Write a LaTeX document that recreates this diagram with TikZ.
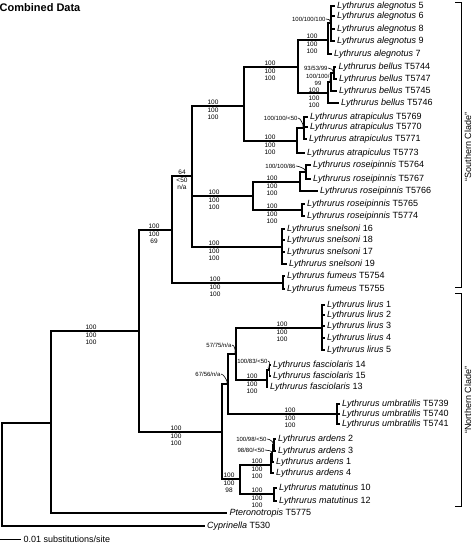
\documentclass[tikz,border=0pt]{standalone}
\usepackage{fontspec}
\setmainfont{Liberation Sans}
\usetikzlibrary{arrows.meta}

\begin{document}
\begin{tikzpicture}[
  x=1pt, y=-1pt,
  br/.style   ={draw,line width=1.1pt},
  tip/.style  ={anchor=west,inner xsep=2.5pt,inner ysep=0.5pt,font=\fontsize{9}{10}\selectfont},
  ttl/.style  ={anchor=west,inner sep=0,font=\fontsize{11}{13}\selectfont\bfseries},
  sv/.style   ={font=\fontsize{6.5}{7.5}\selectfont,inner sep=1.6pt,align=center},
  svl/.style  ={sv,anchor=east,inner sep=0.3pt,font=\fontsize{6}{7}\selectfont},
  ptr/.style  ={draw,line width=0.6pt,-{Stealth[length=2.4pt,width=2.2pt]},shorten >=0.4pt},
  brk/.style  ={draw,line width=0.9pt},
  clade/.style={font=\fontsize{9}{10}\selectfont,rotate=90,anchor=center,inner sep=0},
]
\useasboundingbox (0,0) rectangle (474,544);

\node[ttl] (title) at (-0.5,7.5) {Combined Data};

% ------------------------------------------------------------ internal nodes
% x = depth of the node, y = where the branch from its parent comes in
\foreach \n/\x/\y in {nR/2/474, nA/51/423, nL/139/331, nS/172/230, nSA/192/176,
    nSA1/244/106, nAB/298/67, nAle/328/40, nAle1/331/23, nBel/328/93,
    nBel2/331/82, nBel1/334/73, nAtr/297/141, nAtr1/304/128, nRos/253/196,
    nRos1/300/182, nRos11/306/172, nRos2/302/210, nSn/282/247, nFu/283/283,
    nN/222/432, nN1/228/384, nLF/236/354, nLi/322/328, nFa/267/380,
    nFa1/269.5/370, nUm/337/414, nN2/240/479, nAr/271/465, nAr2/272.5/454,
    nAr3/274/445, nMa/274/494}
  \coordinate (\n) at (\x,\y);

% ------------------------------------------------------------ tips
\foreach \n/\x/\y/\sp/\id in {
    ale5/334.5/6/alegnotus/5, ale6/334.5/16/alegnotus/6, ale8/334.5/29/alegnotus/8,
    ale9/334.5/41/alegnotus/9, ale7/331.5/54/alegnotus/7,
    bel44/336/67/bellus/T5744, bel47/336.5/79/bellus/T5747,
    bel45/336.5/91/bellus/T5745, bel46/338.5/103/bellus/T5746,
    atr69/307.5/117/atrapiculus/T5769, atr70/307.5/127/atrapiculus/T5770,
    atr71/306.5/139/atrapiculus/T5771, atr73/304.5/153/atrapiculus/T5773,
    ros64/310.5/165/roseipinnis/T5764, ros67/310.5/179/roseipinnis/T5767,
    ros66/317.5/191/roseipinnis/T5766, ros65/304.5/204/roseipinnis/T5765,
    ros74/304.5/216/roseipinnis/T5774,
    sne16/284.5/229/snelsoni/16, sne18/284.5/240/snelsoni/18,
    sne17/284.5/252/snelsoni/17, sne19/286.5/264/snelsoni/19,
    fum54/284.5/276/fumeus/T5754, fum55/284.5/289/fumeus/T5755,
    lir1/324.5/305/lirus/1, lir2/324.5/315/lirus/2, lir3/324.5/326/lirus/3,
    lir4/324.5/338/lirus/4, lir5/324.5/350/lirus/5,
    fas14/270.5/365/fasciolaris/14, fas15/270.5/376/fasciolaris/15,
    fas13/267.5/387/fasciolaris/13,
    umb39/339.5/404/umbratilis/T5739, umb40/339.5/414/umbratilis/T5740,
    umb41/339.5/424/umbratilis/T5741,
    ard2/275.5/439/ardens/2, ard3/275.5/451/ardens/3,
    ard1/273.5/462/ardens/1, ard4/273.5/473/ardens/4,
    mat10/276.5/488/matutinus/10, mat12/276.5/501/matutinus/12}
  \node[tip] (\n) at (\x,\y) {\textit{Lythrurus \sp} \id};
\node[tip] (pter) at (227,513)   {\textit{Pteronotropis} T5775};
\node[tip] (cyp)  at (204.5,526) {\textit{Cyprinella} T530};

% ------------------------------------------------------------ branches
\foreach \p/\c in {nR/nA, nR/cyp, nA/nL, nA/pter, nL/nS, nL/nN,
    % southern clade
    nS/nSA, nS/nFu, nSA/nSA1, nSA/nRos, nSA/nSn, nSA1/nAB, nSA1/nAtr,
    nAB/nAle, nAB/nBel, nAle/nAle1, nAle/ale7, nAle1/ale5, nAle1/ale6,
    nAle1/ale8, nAle1/ale9, nBel/nBel2, nBel/bel46, nBel2/nBel1, nBel2/bel45,
    nBel1/bel44, nBel1/bel47, nAtr/nAtr1, nAtr/atr73, nAtr1/atr69,
    nAtr1/atr70, nAtr1/atr71, nRos/nRos1, nRos/nRos2, nRos1/nRos11,
    nRos1/ros66, nRos11/ros64, nRos11/ros67, nRos2/ros65, nRos2/ros74,
    nSn/sne16, nSn/sne18, nSn/sne17, nSn/sne19, nFu/fum54, nFu/fum55,
    % northern clade
    nN/nN1, nN/nN2, nN1/nLF, nN1/nUm, nLF/nLi, nLF/nFa, nLi/lir1, nLi/lir2,
    nLi/lir3, nLi/lir4, nLi/lir5, nFa/nFa1, nFa/fas13, nFa1/fas14,
    nFa1/fas15, nUm/umb39, nUm/umb40, nUm/umb41, nN2/nAr, nN2/nMa,
    nAr/nAr2, nAr/ard4, nAr2/nAr3, nAr2/ard1, nAr3/ard2, nAr3/ard3,
    nMa/mat10, nMa/mat12}
  \draw[br] (\p) |- (\c);

% ------------------------------------------------------------ support values
% one value above the branch, two below it
\foreach \x/\y/\ua/\da/\db [count=\k] in {91/331/100/100/100,
    154/230/100/100/69, 213/106/100/100/100, 270/67/100/100/100,
    312/40/100/100/100, 314/94/100/100/100, 270/141/100/100/100,
    214/196/100/100/100, 272/182/100/100/100, 272/210/100/100/100,
    214/247/100/100/100, 215/283/100/100/100, 176/432/100/100/100,
    282/328/100/100/100, 252/380/100/100/100, 290/414/100/100/100,
    229/479/100/100/98, 257/465/100/100/100, 257/494/100/100/100} {
  \node[sv,anchor=south] (up\k) at (\x,\y) {\ua};
  \node[sv,anchor=north] (dn\k) at (\x,\y) {\da\\\db};
}
\node[sv,anchor=south] (upS) at (182,176) {64};
\node[sv,anchor=north] (dnS) at (182,176) {<50\\n/a};

% values of the short inner branches, with a pointer to their node
\node[svl] (sAle)  at (326,19)   {100/100/100};
\node[svl] (sBel1) at (328,68)   {93/53/99};
\node[svl] (sBel2) at (330,76.5) {100/100/};
\node[svl,anchor=center] (sBel3) at (318,83) {99};
\node[svl] (sAtr)  at (298,118)  {100/100/<50};
\node[svl] (sRos)  at (296,166)  {100/100/86};
\node[svl] (sLF)   at (232,345)  {57/75/n/a};
\node[svl] (sN1)   at (221,374)  {67/56/n/a};
\node[svl] (sFa)   at (268,361)  {100/83/<50};
\node[svl] (sAr3)  at (267,439)  {100/98/<50};
\node[svl] (sAr2)  at (265,450)  {98/80/<50};
\foreach \l/\n in {sAle/nAle1, sBel1/nBel1, sBel2/nBel2, sAtr/nAtr1, sRos/nRos11,
    sLF/nLF, sN1/nN1, sFa/nFa1, sAr3/nAr3, sAr2/nAr2}
  \draw[ptr] (\l.east) .. controls +(3,0) and +(-1,-3) .. (\n);

% ------------------------------------------------------------ scale bar
\coordinate (sb0) at (0,539);
\node[tip] (sbl) at (21,539) {0.01 substitutions/site};
\draw[line width=0.8pt] (sb0) -- (sbl);

% ------------------------------------------------------------ clade brackets
\coordinate (sTop) at (461,2);   \coordinate (sBot) at (461,287);
\coordinate (nTop) at (461,293); \coordinate (nBot) at (461,506);
\draw[brk] (sTop) ++(-6,0) -- (sTop) -- (sBot) -- ++(-6,0);
\draw[brk] (nTop) ++(-6,0) -- (nTop) -- (nBot) -- ++(-6,0);
\node[clade] (sClade) at (468,147) {``Southern Clade''};
\node[clade] (nClade) at (468,400) {``Northern Clade''};

\end{tikzpicture}
\end{document}
